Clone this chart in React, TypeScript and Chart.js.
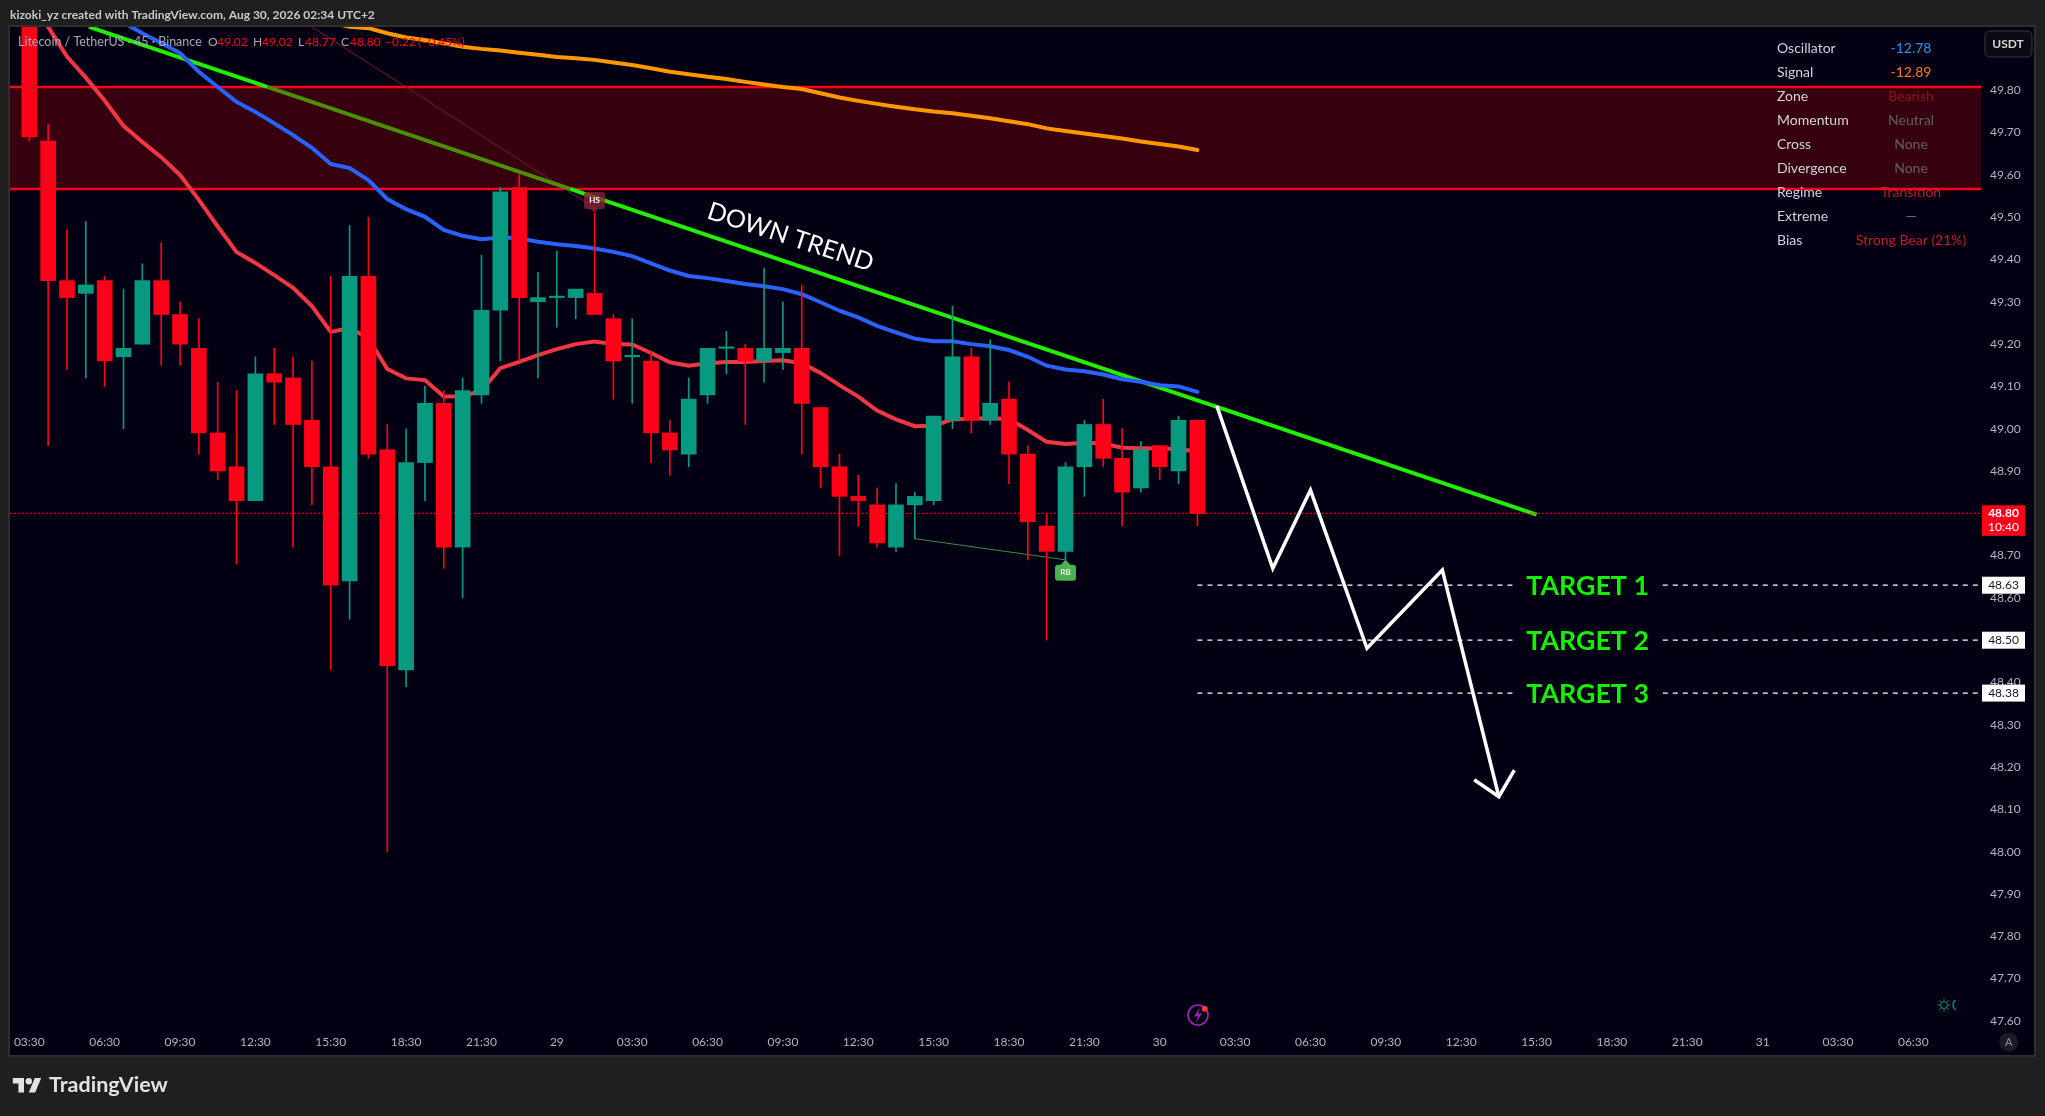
import React, { useEffect, useRef } from "react";
import { Chart, registerables } from "chart.js";

Chart.register(...registerables);

const FONT = "Lato";

// 45-minute candles, Litecoin / TetherUS
const opens = [50.05,49.68,49.35,49.32,49.35,49.17,49.20,49.35,49.27,49.19,48.99,48.91,48.83,49.13,49.12,49.02,48.91,48.64,49.36,48.95,48.43,48.92,49.06,48.72,49.08,49.28,49.57,49.30,49.31,49.31,49.32,49.26,49.17,49.16,48.99,48.94,49.08,49.19,49.19,49.16,49.18,49.19,49.05,48.91,48.84,48.82,48.72,48.82,48.83,49.02,49.17,49.02,49.07,48.94,48.77,48.71,48.91,49.01,48.93,48.86,48.96,48.90,49.02];
const highs = [50.10,49.72,49.47,49.49,49.36,49.33,49.39,49.44,49.30,49.26,49.11,49.09,49.17,49.19,49.17,49.16,49.36,49.48,49.50,49.01,49.00,49.10,49.09,49.12,49.41,49.57,49.60,49.37,49.42,49.33,49.51,49.27,49.26,49.18,49.02,49.12,49.19,49.23,49.20,49.38,49.30,49.34,49.05,48.94,48.89,48.86,48.87,48.85,49.03,49.29,49.19,49.21,49.11,48.96,48.80,48.92,49.02,49.07,49.00,48.97,48.96,49.03,49.02];
const lows = [49.68,48.96,49.14,49.12,49.10,49.00,49.20,49.15,49.15,48.94,48.88,48.68,48.83,49.01,48.72,48.82,48.43,48.55,48.93,48.00,48.39,48.83,48.67,48.60,49.06,49.16,49.16,49.12,49.24,49.26,49.27,49.07,49.06,48.92,48.89,48.91,49.06,49.13,49.01,49.11,49.14,48.94,48.86,48.70,48.77,48.72,48.71,48.74,48.82,49.00,48.99,49.01,48.87,48.69,48.50,48.69,48.84,48.91,48.77,48.85,48.88,48.87,48.77];
const closes = [49.69,49.35,49.31,49.34,49.16,49.19,49.35,49.27,49.20,48.99,48.90,48.83,49.13,49.11,49.01,48.91,48.63,49.36,48.94,48.44,48.92,49.06,48.72,49.09,49.28,49.56,49.31,49.31,49.31,49.33,49.27,49.16,49.17,48.99,48.95,49.07,49.19,49.19,49.16,49.19,49.19,49.06,48.91,48.84,48.83,48.73,48.82,48.84,49.03,49.17,49.02,49.06,48.94,48.78,48.71,48.91,49.01,48.93,48.85,48.95,48.91,49.02,48.80];

const redMa = [50.025,49.95,49.88,49.83,49.776,49.716,49.678,49.642,49.60,49.541,49.478,49.418,49.392,49.363,49.333,49.29,49.229,49.238,49.214,49.141,49.119,49.115,49.076,49.077,49.09,49.143,49.158,49.174,49.188,49.20,49.206,49.20,49.199,49.179,49.157,49.149,49.155,49.158,49.158,49.16,49.162,49.155,49.132,49.103,49.076,49.043,49.022,49.006,49.007,49.022,49.024,49.025,49.023,48.997,48.969,48.964,48.967,48.965,48.955,48.954,48.953,48.952,48.946];
const blueMaStart = 3;
const blueMa = [50.018,49.99,49.96,49.935,49.912,49.888,49.844,49.808,49.773,49.749,49.722,49.694,49.664,49.626,49.616,49.588,49.543,49.519,49.501,49.47,49.456,49.448,49.452,49.45,49.442,49.436,49.432,49.426,49.418,49.408,49.391,49.374,49.361,49.356,49.349,49.342,49.337,49.33,49.318,49.299,49.279,49.263,49.243,49.228,49.213,49.207,49.207,49.20,49.195,49.186,49.17,49.149,49.14,49.136,49.128,49.117,49.111,49.103,49.10,49.087];
const orangeMaStart = 16;
const orangeMa = [49.961,49.95,49.947,49.935,49.925,49.919,49.911,49.903,49.898,49.894,49.889,49.884,49.879,49.876,49.872,49.866,49.86,49.852,49.844,49.838,49.832,49.827,49.82,49.814,49.808,49.803,49.793,49.783,49.775,49.768,49.761,49.755,49.75,49.746,49.74,49.734,49.727,49.72,49.71,49.704,49.698,49.692,49.686,49.679,49.673,49.667,49.659];

const zoneTop = 49.808;
const zoneBottom = 49.567;
const lastPrice = 48.80;
const trendIdx = [3.17, 12.63, 28.7, 80];
const trendPrice = [49.95, 49.808, 49.567, 48.797];
const hsLineIdx = [15, 30];
const hsLinePrice = [49.95, 49.522];
const rbLineIdx = [47, 55];
const rbLinePrice = [48.74, 48.69];
const pathIdx = [63.03, 66, 68, 71, 75, 78];
const pathPrice = [49.054, 48.67, 48.855, 48.481, 48.666, 48.13];
const arrowIdx = [76.69, 78, 78.82];
const arrowPrice = [48.17, 48.13, 48.193];
const targetPrices = [48.63, 48.50, 48.375];
const targetNames = ["TARGET 1", "TARGET 2", "TARGET 3"];
const targetTags = ["48.63", "48.50", "48.38"];

const xTickIdx = [0,4,8,12,16,20,24,28,32,36,40,44,48,52,56,60,64,68,72,76,80,84,88,92,96,100];
const xTickLabels = ["03:30","06:30","09:30","12:30","15:30","18:30","21:30","29","03:30","06:30","09:30","12:30","15:30","18:30","21:30","30","03:30","06:30","09:30","12:30","15:30","18:30","21:30","31","03:30","06:30"];
const yTickLabels = ["47.60","47.70","47.80","47.90","48.00","48.10","48.20","48.30","48.40","48.50","48.60","48.70","48.80","48.90","49.00","49.10","49.20","49.30","49.40","49.50","49.60","49.70","49.80"];

const tableLabels = ["Oscillator","Signal","Zone","Momentum","Cross","Divergence","Regime","Extreme","Bias"];
const tableValues = ["-12.78","-12.89","Bearish","Neutral","None","None","Transition","—","Strong Bear (21%)"];
const tableColors = ["#2196f3","#ff7a10","#8c1020","#5d606b","#5d606b","#5d606b","#c21a2c","#787b86","#c41c2c"];

const UP = "#089981";
const DOWN = "#ff0018";
const X_MIN = -1.0244, X_MAX = 103.59, Y_MIN = 47.5714, Y_MAX = 49.9497;

const series = (vals: number[], start = 0) => vals.map((y, i) => ({ x: i + start, y }));
const pairs = (xs: number[], ys: number[]) => xs.map((x, i) => ({ x, y: ys[i] }));

function txt(ctx: any, s: string, x: number, y: number, font: string, color: string, align: CanvasTextAlign = "left") {
  ctx.font = font;
  ctx.fillStyle = color;
  ctx.textAlign = align;
  ctx.textBaseline = "middle";
  ctx.fillText(s, x, y);
}

function rrect(ctx: any, x: number, y: number, w: number, h: number, r: number) {
  ctx.beginPath();
  ctx.roundRect(x, y, w, h, r);
}

const backdrop = {
  id: "backdrop",
  beforeDraw(chart: any) {
    const { ctx, width, height } = chart;
    ctx.save();
    ctx.fillStyle = "#1f1f1f";
    ctx.fillRect(0, 0, width, height);
    ctx.fillStyle = "#2e2e30";
    ctx.fillRect(8, 25, 2028, 1032);
    ctx.fillStyle = "#020012";
    ctx.fillRect(10, 27, 2024, 1028);
    ctx.restore();
  },
};

const overlay = {
  id: "overlay",
  afterDraw(chart: any) {
    const { ctx } = chart;
    const xs = chart.scales.x, ys = chart.scales.y;
    ctx.save();

    txt(ctx, "kizoki_yz created with TradingView.com, Aug 30, 2026 02:34 UTC+2", 10, 15, `bold 12px ${FONT}`, "#c9c9c9");

    // legend
    const legend: [string, number, string][] = [
      ["Litecoin / TetherUS · 45 · Binance", 18, "#a6a9b2"],
      ["O", 208, "#a6a9b2"], ["49.02", 217, DOWN],
      ["H", 253, "#a6a9b2"], ["49.02", 262, DOWN],
      ["L", 298, "#a6a9b2"], ["48.77", 305, DOWN],
      ["C", 341, "#a6a9b2"], ["48.80", 350, DOWN],
      ["−0.22", 385, DOWN], ["(−0.45%)", 418, DOWN],
    ];
    legend.forEach(([s, x, c]) => {
      const long = s.length > 10;
      txt(ctx, s, x, 42, `${long ? 12.5 : 12}px ${FONT}`, c);
    });

    // table
    tableLabels.forEach((s, i) => {
      const y = 48.3 + 24 * i;
      txt(ctx, s, 1777, y, `14px ${FONT}`, "#d1d4dc");
      txt(ctx, tableValues[i], 1911, y, `14px ${FONT}`, tableColors[i], "center");
    });

    // USDT button
    rrect(ctx, 1985, 31, 47, 26, 5);
    ctx.fillStyle = "#0a0a12";
    ctx.fill();
    ctx.strokeStyle = "#38383c";
    ctx.lineWidth = 1;
    ctx.stroke();
    txt(ctx, "USDT", 2008, 44.5, `bold 12px ${FONT}`, "#d6d6d6", "center");

    // HS marker
    const hx = xs.getPixelForValue(30), hy = ys.getPixelForValue(highs[30]);
    ctx.fillStyle = "rgba(136,34,56,0.8)";
    rrect(ctx, hx - 10.5, hy - 21, 21, 17, 3);
    ctx.fill();
    ctx.beginPath();
    ctx.moveTo(hx - 5, hy - 5);
    ctx.lineTo(hx, hy);
    ctx.lineTo(hx + 5, hy - 5);
    ctx.fill();
    txt(ctx, "HS", hx, hy - 12.5, `bold 8px ${FONT}`, "#ffffff", "center");

    // RB marker
    const rx = xs.getPixelForValue(55), ry = ys.getPixelForValue(lows[55]);
    ctx.fillStyle = "#4caf50";
    rrect(ctx, rx - 10.5, ry + 5, 21, 16, 3);
    ctx.fill();
    ctx.beginPath();
    ctx.moveTo(rx - 6, ry + 6);
    ctx.lineTo(rx, ry);
    ctx.lineTo(rx + 6, ry + 6);
    ctx.fill();
    txt(ctx, "RB", rx, ry + 12.5, `bold 8px ${FONT}`, "#e8f5e9", "center");

    // DOWN TREND label
    ctx.save();
    ctx.translate(xs.getPixelForValue(40.4), ys.getPixelForValue(49.453));
    ctx.rotate((18 * Math.PI) / 180);
    txt(ctx, "DOWN TREND", 0, 0, `25px ${FONT}`, "#ffffff", "center");
    ctx.restore();

    // target labels and tags
    targetPrices.forEach((p, i) => {
      const y = ys.getPixelForValue(p);
      txt(ctx, targetNames[i], xs.getPixelForValue(79.45), y + 1, `bold 26.8px ${FONT}`, "#14f000");
      ctx.fillStyle = "#ffffff";
      ctx.fillRect(1982, y - 8.5, 43, 17);
      txt(ctx, targetTags[i], 2003.5, y, `12px ${FONT}`, "#131722", "center");
    });

    // last price tag
    ctx.fillStyle = DOWN;
    const ly = ys.getPixelForValue(lastPrice);
    ctx.fillRect(1982, ly - 8, 43, 30.5);
    txt(ctx, "48.80", 2003.5, ly, `bold 12px ${FONT}`, "#ffffff", "center");
    txt(ctx, "10:40", 2003.5, ly + 14, `12px ${FONT}`, "#ffffff", "center");

    // auto-scale button
    ctx.fillStyle = "#1b1b28";
    ctx.beginPath();
    ctx.arc(2008.7, 1042, 9.5, 0, Math.PI * 2);
    ctx.fill();
    txt(ctx, "A", 2008.7, 1042.5, `11px ${FONT}`, "#8e8e96", "center");

    // lightning badge
    ctx.strokeStyle = "#9c27b0";
    ctx.lineWidth = 1.6;
    ctx.beginPath();
    ctx.arc(1198, 1015, 10, 0, Math.PI * 2);
    ctx.stroke();
    ctx.fillStyle = "#9c27b0";
    ctx.beginPath();
    ctx.moveTo(1200, 1007);
    ctx.lineTo(1194, 1016.5);
    ctx.lineTo(1198, 1016.5);
    ctx.lineTo(1195.5, 1023);
    ctx.lineTo(1202, 1013.5);
    ctx.lineTo(1198, 1013.5);
    ctx.closePath();
    ctx.fill();
    ctx.fillStyle = "#f23645";
    ctx.beginPath();
    ctx.arc(1204.7, 1008.7, 3, 0, Math.PI * 2);
    ctx.fill();

    // session icon
    ctx.strokeStyle = UP;
    ctx.lineWidth = 1;
    ctx.beginPath();
    ctx.arc(1944, 1005, 3.5, 0, Math.PI * 2);
    ctx.stroke();
    for (let a = 0; a < 8; a++) {
      const t = (a * Math.PI) / 4;
      ctx.beginPath();
      ctx.moveTo(1944 + Math.cos(t) * 4.5, 1005 + Math.sin(t) * 4.5);
      ctx.lineTo(1944 + Math.cos(t) * 6.5, 1005 + Math.sin(t) * 6.5);
      ctx.stroke();
    }
    ctx.lineWidth = 1.4;
    ctx.beginPath();
    ctx.arc(1959, 1005, 6, Math.PI * 0.7, Math.PI * 1.3);
    ctx.stroke();

    // TradingView logo
    ctx.save();
    ctx.translate(12.8, 1074.8);
    ctx.scale(0.8, 0.8);
    ctx.fillStyle = "#e2e2e2";
    ctx.fill(new Path2D("M14 22H7V11H0V4h14v18zM28 22h-8l7.5-18h8L28 22z"));
    ctx.beginPath();
    ctx.arc(20, 8, 4, 0, Math.PI * 2);
    ctx.fill();
    ctx.restore();
    txt(ctx, "TradingView", 49, 1085, `bold 21.5px ${FONT}`, "#e2e2e2");

    ctx.restore();
  },
};

export default function App() {
  const ref = useRef<HTMLCanvasElement>(null);
  useEffect(() => {
    document.body.style.margin = "0";
    document.body.style.background = "#1f1f1f";
    const idx = opens.map((_, i) => i);
    const colors = idx.map((i) => (closes[i] >= opens[i] ? UP : DOWN));
    const thinLine = (data: any[], color: string, width: number, order: number, extra: any = {}) => ({
      type: "line", data, borderColor: color, borderWidth: width, pointRadius: 0, order,
      tension: 0, fill: false, ...extra,
    });
    const targetSets = targetPrices.map((p) =>
      thinLine(
        [{ x: 62, y: p }, { x: 78.9, y: p }, { x: 79, y: null }, { x: 86.7, y: p }, { x: X_MAX, y: p }],
        "#ffffff", 1.3, 15, { borderDash: [5, 5], spanGaps: false })
    );
    const chart = new Chart(ref.current as any, {
      type: "bar",
      data: {
        datasets: [
          thinLine(pairs(trendIdx, trendPrice), "#22ee00", 4, 85, {
            segment: { borderColor: (c: any) => (c.p0DataIndex === 1 ? "#4c8f04" : undefined) },
          }),
          thinLine(pairs(hsLineIdx, hsLinePrice), "#7a1a2c", 1, 86),
          thinLine(pairs(rbLineIdx, rbLinePrice), "#3f8f3f", 1, 86),
          thinLine(pairs([X_MIN, X_MAX], [zoneTop, zoneTop]), DOWN, 2.5, 90, { fill: "+1", backgroundColor: "#37000f" }),
          thinLine(pairs([X_MIN, X_MAX], [zoneBottom, zoneBottom]), DOWN, 2.5, 89),
          thinLine(pairs([X_MIN, X_MAX], [lastPrice, lastPrice]), DOWN, 1.2, 80, { borderDash: [1.5, 2.5] }),
          thinLine(series(orangeMa, orangeMaStart), "#ff9800", 4, 70, { borderCapStyle: "round" }),
          thinLine(series(blueMa, blueMaStart), "#2962ff", 4, 71, { borderCapStyle: "round" }),
          thinLine(series(redMa), "#f23645", 4, 72),
          {
            type: "bar", grouped: false, barThickness: 1, order: 50,
            data: idx.map((i) => ({ x: i, y: [lows[i], highs[i]] })),
            backgroundColor: colors,
          },
          {
            type: "bar", grouped: false, barThickness: 15, minBarLength: 1.5, order: 40,
            data: idx.map((i) => ({ x: i, y: [opens[i], closes[i]] })),
            backgroundColor: colors,
          },
          ...targetSets,
          thinLine(pairs(pathIdx, pathPrice), "#ffffff", 3.5, 10, { borderJoinStyle: "miter" }),
          thinLine(pairs(arrowIdx, arrowPrice), "#ffffff", 3.5, 10, { borderJoinStyle: "miter" }),
        ] as any,
      },
      options: {
        animation: false,
        responsive: false,
        devicePixelRatio: 1,
        layout: { padding: { left: 10, top: 27, right: 11, bottom: 61 } },
        plugins: { legend: { display: false }, tooltip: { enabled: false } },
        scales: {
          x: {
            type: "linear",
            offset: false,
            min: X_MIN,
            max: X_MAX,
            grid: { display: false, drawTicks: false, offset: false },
            border: { display: false },
            afterBuildTicks: (s: any) => { s.ticks = xTickIdx.map((value) => ({ value })); },
            afterFit: (s: any) => { s.height = 22; },
            ticks: {
              autoSkip: false, maxRotation: 0, padding: 2, color: "#b2b5be",
              font: { family: FONT, size: 12 },
              callback: (v: any) => xTickLabels[xTickIdx.indexOf(v)],
            },
          },
          y: {
            type: "linear",
            position: "right",
            min: Y_MIN,
            max: Y_MAX,
            grid: { display: false, drawTicks: false },
            border: { display: false },
            afterBuildTicks: (s: any) => { s.ticks = yTickLabels.map((t) => ({ value: parseFloat(t) })); },
            afterFit: (s: any) => { s.width = 53; },
            ticks: {
              autoSkip: false, padding: 9, crossAlign: "near", color: "#b2b5be",
              font: { family: FONT, size: 12 },
              callback: (v: any) => Number(v).toFixed(2),
            },
          },
        },
      } as any,
      plugins: [backdrop, overlay],
    });
    return () => chart.destroy();
  }, []);
  return <canvas ref={ref} width={2045} height={1116} style={{ display: "block", position: "absolute", left: 0, top: 0 }} />;
}
